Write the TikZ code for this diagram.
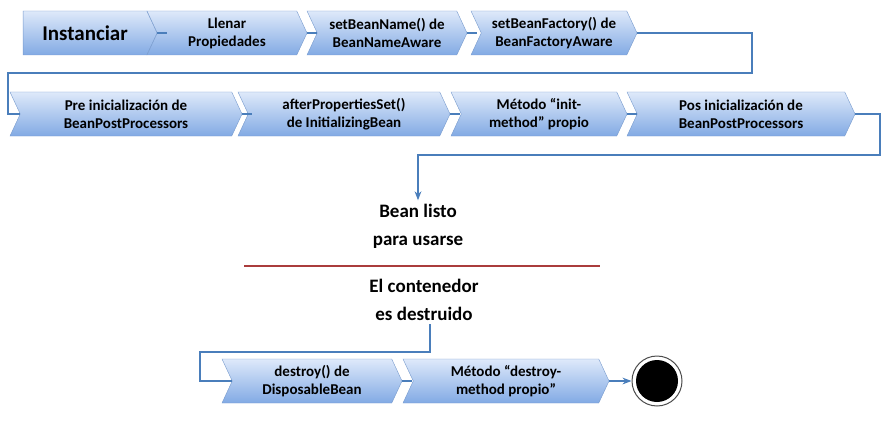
\documentclass[tikz,border=0pt]{standalone}
\usepackage{fontspec}
\setmainfont{Carlito}
\usetikzlibrary{shapes.symbols,arrows.meta}
\definecolor{boxtop}{RGB}{222,233,250}
\definecolor{boxbot}{RGB}{130,170,228}
\definecolor{boxedge}{RGB}{120,155,205}
\definecolor{flow}{RGB}{74,126,187}
\definecolor{sepred}{RGB}{170,60,60}
\tikzset{
  stepbox/.style={signal, signal to=east, signal from=west, signal pointer angle=130,
    draw=boxedge, top color=boxtop, bottom color=boxbot, inner sep=0pt,
    minimum height=44pt, align=center, font=\fontsize{15pt}{18pt}\selectfont\bfseries},
  firstbox/.style={stepbox, signal from=nowhere},
  link/.style={draw=flow, line width=2.5pt},
  plain/.style={align=center, font=\fontsize{19pt}{28pt}\selectfont\bfseries}
}
\begin{document}
\begin{tikzpicture}[x=1pt,y=-1pt]
\useasboundingbox (0,0) rectangle (893,433);
% primera fila
\node[firstbox, minimum width=134pt, font=\fontsize{21pt}{24pt}\selectfont\bfseries] (inst) at (85,33) {Instanciar};
\node[stepbox, minimum width=160pt] (llenar) at (227,33) {Llenar\\Propiedades};
\node[stepbox, minimum width=160pt] (setname) at (387,33) {setBeanName() de\\BeanNameAware};
\node[stepbox, minimum width=166pt] (setfact) at (554,33) {setBeanFactory() de\\BeanFactoryAware};
% segunda fila
\node[stepbox, minimum width=232pt] (pre) at (126,114) {Pre inicialización de\\BeanPostProcessors};
\node[stepbox, minimum width=212pt] (after) at (344,114) {afterPropertiesSet()\\de InitializingBean};
\node[stepbox, minimum width=176pt] (initm) at (539,114) {Método “init-\\method” propio};
\node[stepbox, minimum width=228pt] (post) at (741,114) {Pos inicialización de\\BeanPostProcessors};
% estados
\node[plain] (listo) at (418,226) {Bean listo\\para usarse};
\node[plain] (destr) at (424,300) {El contenedor\\es destruido};
\draw[sepred, line width=1.5pt] (244,266) -- (600,266);
% tercera fila
\node[stepbox, minimum width=180pt] (destroy) at (312,381) {destroy() de\\DisposableBean};
\node[stepbox, minimum width=206pt] (destm) at (506,381) {Método “destroy-\\method propio”};
\node[circle, draw=black!70, line width=1pt, fill=white, minimum size=50pt] (fin) at (657,381) {};
\node[circle, fill=black, minimum size=42pt] (finin) at (fin) {};
% conectores
\foreach \a/\b in {inst/llenar, llenar/setname, setname/setfact, pre/after, after/initm, initm/post, destroy/destm}
  \draw[link] (\a.east) -- ++(10,0);
\draw[link] (setfact.east) -- (752,33) -- (752,73) -- (8,73) -- (8,114) -- (pre.west);
\draw[link, -{Stealth[length=9pt]}] (post.east) -- (880,114) -- (880,155) -- (418,155) -- (listo.north);
\draw[link] (destr.south) ++(6,0) coordinate (d0) -- (d0 |- 0,352) -- (200,352) -- (200,381) -- (destroy.west);
\draw[link, -{Stealth[length=9pt]}] (destm.east) -- (fin.west);
\end{tikzpicture}
\end{document}
